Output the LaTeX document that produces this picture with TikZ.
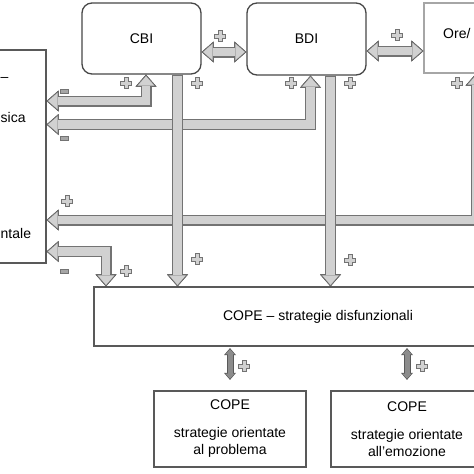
\documentclass[tikz,border=0pt]{standalone}
\usepackage{fontspec}
\setmainfont{Liberation Sans}
\usetikzlibrary{arrows.meta,calc}
\tikzset{
  txt/.style={inner sep=0pt, font=\fontsize{14}{17}\selectfont},
  rbox/.style={draw=black!72, line width=1.3pt, rounded corners=10pt, fill=white, inner sep=0pt, font=\fontsize{14}{17}\selectfont},
  sbox/.style={draw=black!65, line width=1.2pt, fill=white, inner sep=0pt, font=\fontsize{14}{17}\selectfont},
  lbox/.style={draw=black!35, line width=1.2pt, fill=white, inner sep=0pt},
  fshadow/.style={draw=black!95, line width=11pt, line join=miter, shift={(1.2,3)},
     >={Triangle[width=21pt,length=12pt,line width=0pt]}},
  fouter/.style={draw=black!55, line width=11pt, line join=miter,
     >={Triangle[width=21pt,length=12pt,line width=0pt]}},
  finner/.style={draw=black!18, line width=8.8pt, line join=miter, shorten >=1.5pt, shorten <=1.5pt,
     >={Triangle[width=16.6pt,length=9.5pt,line width=0pt]}},
  souter/.style={draw=black!65, line width=7pt,
     >={Triangle[width=12pt,length=7pt,line width=0pt]}},
  sinner/.style={draw=black!45, line width=5pt, shorten >=1.2pt, shorten <=1.2pt,
     >={Triangle[width=9pt,length=5pt,line width=0pt]}},
  plusm/.style={minimum size=16pt, inner sep=0pt, path picture={
    \begin{scope}[shift={(path picture bounding box.center)}]
      \fill[black!50, shift={(0.8,1.3)}] (-1.8,-5.5) -- (1.8,-5.5) -- (1.8,-1.8) -- (5.5,-1.8) -- (5.5,1.8) -- (1.8,1.8) -- (1.8,5.5) -- (-1.8,5.5) -- (-1.8,1.8) -- (-5.5,1.8) -- (-5.5,-1.8) -- (-1.8,-1.8) -- cycle;
      \filldraw[fill=black!18, draw=black!55, line width=0.6pt] (-1.8,-5.5) -- (1.8,-5.5) -- (1.8,-1.8) -- (5.5,-1.8) -- (5.5,1.8) -- (1.8,1.8) -- (1.8,5.5) -- (-1.8,5.5) -- (-1.8,1.8) -- (-5.5,1.8) -- (-5.5,-1.8) -- (-1.8,-1.8) -- cycle;
    \end{scope}}},
  minusm/.style={minimum size=12pt, inner sep=0pt, path picture={
    \begin{scope}[shift={(path picture bounding box.center)}]
      \fill[black!50, shift={(0.8,1.3)}] (-4,-2) rectangle (4,2);
      \filldraw[fill=black!35, draw=black!55, line width=0.6pt] (-4,-2) rectangle (4,2);
    \end{scope}}},
}
\newcommand\fatarr[2]{%
  \draw[fshadow,#1] #2;
  \draw[fouter,#1] #2;
  \draw[finner,#1] #2;}
\newcommand\smallarr[1]{%
  \draw[souter,<->] #1;
  \draw[sinner,<->] #1;}
\begin{document}
\begin{tikzpicture}[x=1pt,y=-1pt]
\useasboundingbox (0,0) rectangle (474,474);
\clip (0,0) rectangle (474,474);
\fill[white] (0,0) rectangle (474,474);

% boxes
\node[rbox, minimum width=119pt, minimum height=71pt] (cbi) at (141.5,38.5) {CBI};
\node[rbox, minimum width=119pt, minimum height=72pt] (bdi) at (306.5,39) {BDI};
\node[lbox, minimum width=116pt, minimum height=70pt] (ore) at (482,38) {};
\node[txt, anchor=west] (oret) at (443,33) {Ore/};
\node[sbox, minimum width=150pt, minimum height=213pt] (left) at (-29,156.5) {};
\node[txt, anchor=west] (l1) at (0.5,79) {–};
\node[txt, anchor=west] (l2) at (0.5,117) {sica};
\node[txt, anchor=west] (l3) at (0.5,233) {ntale};
\node[sbox, minimum width=448pt, minimum height=59pt] (cope) at (318,316.5) {COPE – strategie disfunzionali};
\node[sbox, minimum width=152pt, minimum height=76pt, align=center] (prob) at (230,429)
  {COPE\\[11pt]strategie orientate\\al problema};
\node[sbox, minimum width=152pt, minimum height=76pt, align=center] (emo) at (407,429)
  {COPE\\[11pt]strategie orientate\\all’emozione};

% bend / level coordinates
\coordinate (h1) at (0,52);
\coordinate (h2) at (0,51);
\coordinate (b3) at (146,101);
\coordinate (b4) at (310.5,124.5);
\coordinate (b5) at (476,220);
\coordinate (b6) at (106,251.5);
\coordinate (v7) at (177.5,0);
\coordinate (v8) at (330.5,0);
\coordinate (s1) at (230,0);
\coordinate (s2) at (407,0);

% horizontal / bent arrows
\fatarr{<->}{(cbi.east |- h1) -- (bdi.west |- h1)}
\fatarr{<->}{(bdi.east |- h2) -- (ore.west |- h2)}
\fatarr{<->}{(left.east |- b3) -- (b3) -- (b3 |- cbi.south)}
\fatarr{<->}{(left.east |- b4) -- (b4) -- (b4 |- bdi.south)}
\fatarr{<->}{(left.east |- b5) -- (b5) -- (b5 |- ore.south)}
\fatarr{<->}{(left.east |- b6) -- (b6) -- (b6 |- cope.north)}
% vertical arrows
\fatarr{->}{(v7 |- cbi.south) -- (v7 |- cope.north)}
\fatarr{->}{(v8 |- bdi.south) -- (v8 |- cope.north)}
% small arrows
\smallarr{([yshift=-1.5pt]s1 |- cope.south) -- ([yshift=10.5pt]s1 |- prob.north)}
\smallarr{([yshift=-1.5pt]s2 |- cope.south) -- ([yshift=10.5pt]s2 |- emo.north)}

% signs
\node[plusm] (p1) at (220,36) {};
\node[plusm] (p2) at (397,35) {};
\node[plusm] (p3) at (126,83) {};
\node[plusm] (p4) at (197,83) {};
\node[plusm] (p5) at (291,83) {};
\node[plusm] (p6) at (350,83) {};
\node[plusm] (p7) at (457,83) {};
\node[plusm] (p8) at (67,201) {};
\node[plusm] (p9) at (126,271) {};
\node[plusm] (p10) at (197,259) {};
\node[plusm] (p11) at (350,260) {};
\node[plusm] (p12) at (244,366) {};
\node[plusm] (p13) at (422,366) {};
\node[minusm] (m1) at (64,91) {};
\node[minusm] (m2) at (64,138) {};
\node[minusm] (m3) at (64,271) {};
\end{tikzpicture}
\end{document}
